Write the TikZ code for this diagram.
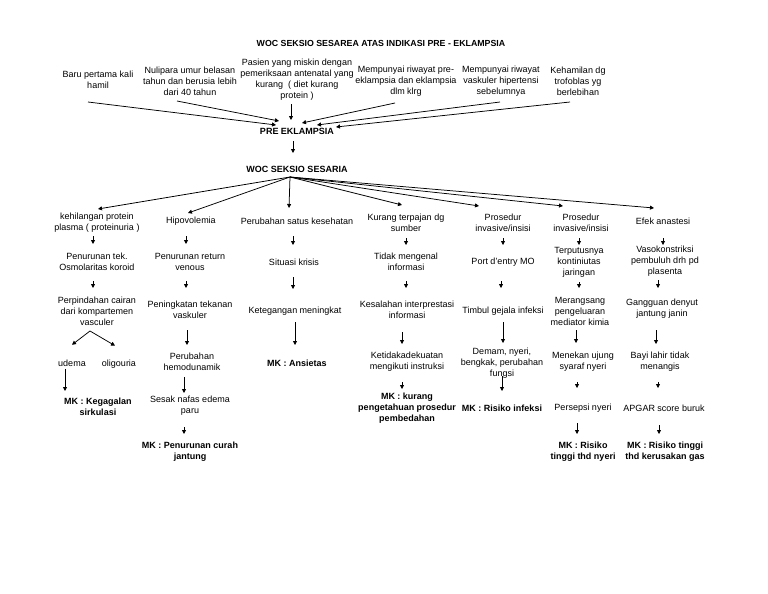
\documentclass[tikz,border=0pt]{standalone}
\usepackage{fontspec}
\setmainfont{Liberation Sans}
\usetikzlibrary{arrows.meta,calc}

\begin{document}
\begin{tikzpicture}[
x=1pt,y=-1pt,
txt/.style={align=center,inner sep=1pt,font=\fontsize{9}{11}\selectfont},
mk/.style={txt,font=\fontsize{9}{11}\selectfont\bfseries},
arr/.style={-{Triangle[length=4pt,width=4pt]},line width=0.75pt}
]
\fill[white] (0,0) rectangle (768,594);
\useasboundingbox (0,0) rectangle (768,594);

\node[mk,font=\fontsize{8.8}{11}\selectfont\bfseries] (title) at (381,43) {WOC SEKSIO SESAREA ATAS INDIKASI PRE - EKLAMPSIA};

% faktor penyebab
\node[txt] (baru) at (98,80) {Baru pertama kali\\hamil};
\node[txt] (nulipara) at (190,81) {Nulipara umur belasan\\tahun dan berusia lebih\\dari 40 tahun};
\node[txt] (pasien) at (297,80) {Pasien yang miskin dengan\\pemeriksaan antenatal yang\\kurang\ \ ( diet kurang\\protein )};
\node[txt] (riwpre) at (406,81) {Mempunyai riwayat pre-\\eklampsia dan eklampsia\\dlm klrg};
\node[txt] (riwvask) at (501,81) {Mempunyai riwayat\\vaskuler hipertensi\\sebelumnya};
\node[txt] (trofo) at (578,81) {Kehamilan dg\\trofoblas yg\\berlebihan};

\node[mk] (pre) at (297,131) {PRE EKLAMPSIA};
\node[mk] (woc) at (297,169) {WOC SEKSIO SESARIA};

% kolom
\node[txt] (protein) at (97,223) {kehilangan protein\\plasma ( proteinuria )};
\node[txt] (hipo) at (191,221) {Hipovolemia};
\node[txt] (statkes) at (297,221) {Perubahan satus kesehatan};
\node[txt] (terpajan) at (406,223) {Kurang terpajan dg\\sumber};
\node[txt] (invasA) at (503,223) {Prosedur\\invasive/insisi};
\node[txt] (invasB) at (581,223) {Prosedur\\invasive/insisi};
\node[txt] (anastesi) at (663,221) {Efek anastesi};

\node[txt] (osmo) at (97,262) {Penurunan tek.\\Osmolaritas koroid};
\node[txt] (perpind) at (97,311) {Perpindahan cairan\\dari kompartemen\\vasculer};
\node[txt,anchor=base] (udema) at (72,366) {udema};
\node[txt,anchor=base] (oligo) at (119,366) {oligouria};
\node[mk] (mksirk) at (98,407) {MK : Kegagalan\\sirkulasi};

\node[txt] (return) at (190,262) {Penurunan return\\venous};
\node[txt] (tekanan) at (190,310) {Peningkatan tekanan\\vaskuler};
\node[txt] (hemo) at (192,362) {Perubahan\\hemodunamik};
\node[txt] (sesak) at (190,406) {Sesak nafas edema\\paru};
\node[mk] (mkcurah) at (190,452) {MK : Penurunan curah\\jantung};

\node[txt] (krisis) at (294,262) {Situasi krisis};
\node[txt] (tegang) at (295,311) {Ketegangan meningkat};
\node[mk] (mkcemas) at (297,363) {MK : Ansietas};

\node[txt] (tdkkenal) at (406,262) {Tidak mengenal\\informasi};
\node[txt] (salah) at (407,310) {Kesalahan interprestasi\\informasi};
\node[txt] (instruksi) at (407,362) {Ketidakadekuatan\\mengikuti instruksi};
\node[mk] (mktahu) at (407,408) {MK : kurang\\pengetahuan prosedur\\pembedahan};

\node[txt] (entry) at (503,262) {Port d'entry MO};
\node[txt] (gejala) at (503,311) {Timbul gejala infeksi};
\node[txt] (demam) at (502,363) {Demam, nyeri,\\bengkak, perubahan\\fungsi};
\node[mk] (mkinfeksi) at (502,408) {MK : Risiko infeksi};

\node[txt] (putus) at (579,262) {Terputusnya\\kontiniutas\\jaringan};
\node[txt] (mediator) at (580,311) {Merangsang\\pengeluaran\\mediator kimia};
\node[txt] (syaraf) at (583,362) {Menekan ujung\\syaraf nyeri};
\node[txt] (persepsi) at (583,408) {Persepsi nyeri};
\node[mk] (mknyeri) at (583,452) {MK : Risiko\\tinggi thd nyeri};

\node[txt] (vaso) at (665,261) {Vasokonstriksi\\pembuluh drh pd\\plasenta};
\node[txt] (denyut) at (662,309) {Gangguan denyut\\jantung janin};
\node[txt] (bayi) at (660,362) {Bayi lahir tidak\\menangis};
\node[txt] (apgar) at (664,408) {APGAR score buruk};
\node[mk] (mkgas) at (665,452) {MK : Risiko tinggi\\thd kerusakan gas};

% ke pre eklampsia
\draw[arr] ($(baru)+(-10,22)$) -- ($(pre)+(-21,-6)$);
\draw[arr] ($(nulipara)+(-13,20)$) -- ($(pre)+(-18,-10)$);
\draw[arr] ($(pasien)+(-6,24)$) -- ($(pre)+(-6,-11)$);
\draw[arr] ($(riwpre)+(-11,22)$) -- ($(pre)+(5,-8)$);
\draw[arr] ($(riwvask)+(-1,21)$) -- ($(pre)+(20,-6)$);
\draw[arr] ($(trofo)+(-8,21)$) -- ($(pre)+(39,-4)$);
\draw[arr] ($(pre)+(-4,10)$) -- ($(woc)+(-4,-16)$);

% percabangan woc
\draw[arr] ($(woc)+(-7,8)$) -- ($(protein)+(1,-14)$);
\draw[arr] ($(woc)+(-7,8)$) -- ($(hipo)+(-3,-8)$);
\draw[arr] ($(woc)+(-7,8)$) -- ($(statkes)+(-8,-13)$);
\draw[arr] ($(woc)+(-7,8)$) -- ($(terpajan)+(-4,-18)$);
\draw[arr] ($(woc)+(-7,8)$) -- ($(invasA)+(-24,-17)$);
\draw[arr] ($(woc)+(-7,8)$) -- ($(invasB)+(-18,-17)$);
\draw[arr] ($(woc)+(-7,8)$) -- ($(anastesi)+(-9,-13)$);

% kolom 1
\draw[arr] ($(protein)+(-4,13)$) -- ($(osmo)+(-4,-18)$);
\draw[arr] ($(osmo)+(-4,19)$) -- ($(perpind)+(-4,-23)$);
\draw[arr] ($(perpind)+(-7,20)$) -- ($(udema)+(0,-18)$);
\draw[arr] ($(perpind)+(-7,20)$) -- ($(oligo)+(-4,-18)$);
\draw[arr] ($(udema)+(-7,6)$) -- ($(mksirk)+(-33,-16)$);

% kolom 2
\draw[arr] ($(hipo)+(-5,15)$) -- ($(return)+(-4,-18)$);
\draw[arr] ($(return)+(-4,19)$) -- ($(tekanan)+(-4,-22)$);
\draw[arr] ($(tekanan)+(-3,20)$) -- ($(hemo)+(-5,-17)$);
\draw[arr] ($(hemo)+(-8,15)$) -- ($(sesak)+(-6,-13)$);
\draw[arr] ($(sesak)+(-6,21)$) -- ($(mkcurah)+(-6,-18)$);

% kolom 3
\draw[arr] ($(statkes)+(-4,15)$) -- ($(krisis)+(-1,-17)$);
\draw[arr] ($(krisis)+(-1,15)$) -- ($(tegang)+(-2,-22)$);
\draw[arr] ($(tegang)+(0,11)$) -- ($(mkcemas)+(-2,-18)$);

% kolom 4
\draw[arr] ($(terpajan)+(0,15)$) -- ($(tdkkenal)+(0,-17)$);
\draw[arr] ($(tdkkenal)+(0,19)$) -- ($(salah)+(-1,-22)$);
\draw[arr] ($(salah)+(-5,22)$) -- ($(instruksi)+(-5,-18)$);
\draw[arr] ($(instruksi)+(-5,20)$) -- ($(mktahu)+(-5,-19)$);

% kolom 5
\draw[arr] ($(invasA)+(0,15)$) -- ($(entry)+(0,-17)$);
\draw[arr] ($(entry)+(-2,19)$) -- ($(gejala)+(-2,-23)$);
\draw[arr] ($(gejala)+(0,11)$) -- ($(demam)+(1,-20)$);
\draw[arr] ($(demam)+(0,13)$) -- ($(mkinfeksi)+(0,-17)$);

% kolom 6
\draw[arr] ($(invasB)+(-2,15)$) -- ($(putus)+(0,-17)$);
\draw[arr] ($(putus)+(0,20)$) -- ($(mediator)+(-1,-23)$);
\draw[arr] ($(mediator)+(-4,19)$) -- ($(syaraf)+(-7,-19)$);
\draw[arr] ($(syaraf)+(-6,20)$) -- ($(persepsi)+(-6,-20)$);
\draw[arr] ($(persepsi)+(-6,15)$) -- ($(mknyeri)+(-6,-18)$);

% kolom 7
\draw[arr] ($(anastesi)+(0,17)$) -- ($(vaso)+(-2,-16)$);
\draw[arr] ($(vaso)+(-7,19)$) -- ($(denyut)+(-4,-21)$);
\draw[arr] ($(denyut)+(-6,21)$) -- ($(bayi)+(-4,-18)$);
\draw[arr] ($(bayi)+(-2,20)$) -- ($(apgar)+(-6,-20)$);
\draw[arr] ($(apgar)+(-5,17)$) -- ($(mkgas)+(-6,-18)$);
\end{tikzpicture}
\end{document}
